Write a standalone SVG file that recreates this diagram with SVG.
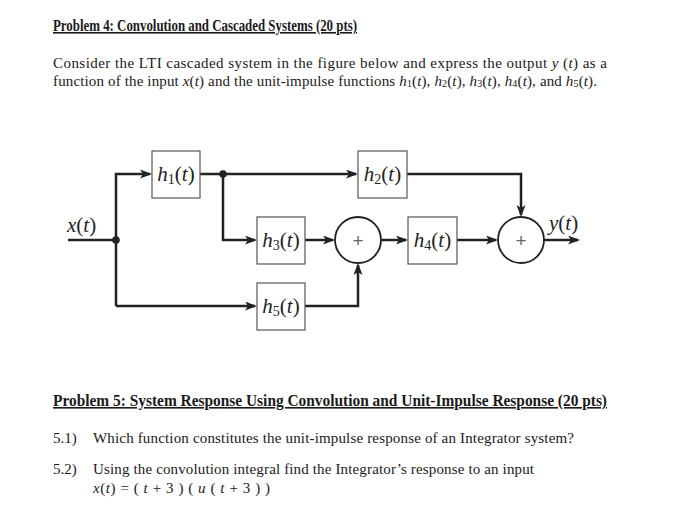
<svg xmlns="http://www.w3.org/2000/svg" width="700" height="521" viewBox="0 0 700 521">
<style>
.txt{font-family:"Liberation Serif","Times New Roman",serif;font-size:15px;fill:#1a1a1a}
.ttl{font-family:"Liberation Serif","Times New Roman",serif;font-size:16px;font-weight:bold;fill:#1a1a1a;text-decoration:underline}
.lbl{font-family:"Liberation Serif","Times New Roman",serif;font-size:21px;fill:#222}
.i{font-style:italic}
.box{fill:#fff;stroke:#555;stroke-width:1.2}
.sum{fill:#fff;stroke:#222;stroke-width:1.8}
.plus{font-family:"Liberation Sans",Arial,sans-serif;font-size:19px;fill:#666}
.wire{fill:none;stroke:#222;stroke-width:2.5;stroke-linejoin:miter}
.arr{marker-end:url(#ah)}
</style>
<defs>
<marker id="ah" markerUnits="userSpaceOnUse" markerWidth="13" markerHeight="10" refX="10" refY="4.5" orient="auto">
<path d="M0,0 L12,4.5 L0,9 L3,4.5 z" fill="#222"/>
</marker>
</defs>
<rect width="700" height="521" fill="#fff"/>

<g id="text-top">
<text class="ttl" x="53" y="31" textLength="304" lengthAdjust="spacingAndGlyphs">Problem 4: Convolution and Cascaded Systems (20 pts)</text>
<text class="txt" x="53" y="68" textLength="554" lengthAdjust="spacing">Consider the LTI cascaded system in the figure below and express the output <tspan class="i">y</tspan> (<tspan class="i">t</tspan>) as a</text>
<text class="txt" x="53" y="86" textLength="544" lengthAdjust="spacing">function of the input <tspan class="i">x</tspan>(<tspan class="i">t</tspan>) and the unit-impulse functions <tspan class="i">h</tspan><tspan font-size="10" dy="1">1</tspan><tspan dy="-1">(</tspan><tspan class="i">t</tspan>), <tspan class="i">h</tspan><tspan font-size="10" dy="1">2</tspan><tspan dy="-1">(</tspan><tspan class="i">t</tspan>), <tspan class="i">h</tspan><tspan font-size="10" dy="1">3</tspan><tspan dy="-1">(</tspan><tspan class="i">t</tspan>), <tspan class="i">h</tspan><tspan font-size="10" dy="1">4</tspan><tspan dy="-1">(</tspan><tspan class="i">t</tspan>), and <tspan class="i">h</tspan><tspan font-size="10" dy="1">5</tspan><tspan dy="-1">(</tspan><tspan class="i">t</tspan>).</text>
</g>

<g id="connectors">
<path class="wire" d="M68,240 H116"/>
<path class="wire arr" d="M116,306 V174 H150"/>
<path class="wire arr" d="M200,174 H356"/>
<path class="wire arr" d="M407,174 H521 V215"/>
<path class="wire arr" d="M223,174 V240 H255"/>
<path class="wire arr" d="M305,240 H333"/>
<path class="wire arr" d="M381,240 H406"/>
<path class="wire arr" d="M457,240 H496"/>
<path class="wire arr" d="M544,240 H578"/>
<path class="wire arr" d="M116,306 H255"/>
<path class="wire arr" d="M305,306 H358 V265"/>
<circle cx="116" cy="240" r="3.8" fill="#222"/>
<circle cx="223" cy="174" r="3.8" fill="#222"/>
</g>

<g id="label-x">
<text class="lbl" x="67" y="232"><tspan class="i">x</tspan>(<tspan class="i">t</tspan>)</text>
</g>
<g id="label-y">
<text class="lbl" x="549" y="230"><tspan class="i">y</tspan>(<tspan class="i">t</tspan>)</text>
</g>

<g id="h1">
<rect class="box" x="152" y="151" width="48" height="47"/>
<text class="lbl" x="176" y="181" text-anchor="middle"><tspan class="i">h</tspan><tspan font-size="14" dy="3">1</tspan><tspan dy="-3">(</tspan><tspan class="i">t</tspan>)</text>
</g>
<g id="h2">
<rect class="box" x="358" y="151" width="49" height="47"/>
<text class="lbl" x="382.5" y="181" text-anchor="middle"><tspan class="i">h</tspan><tspan font-size="14" dy="3">2</tspan><tspan dy="-3">(</tspan><tspan class="i">t</tspan>)</text>
</g>
<g id="h3">
<rect class="box" x="257" y="217" width="48" height="47"/>
<text class="lbl" x="281" y="247" text-anchor="middle"><tspan class="i">h</tspan><tspan font-size="14" dy="3">3</tspan><tspan dy="-3">(</tspan><tspan class="i">t</tspan>)</text>
</g>
<g id="h4">
<rect class="box" x="408" y="217" width="49" height="47"/>
<text class="lbl" x="432.5" y="247" text-anchor="middle"><tspan class="i">h</tspan><tspan font-size="14" dy="3">4</tspan><tspan dy="-3">(</tspan><tspan class="i">t</tspan>)</text>
</g>
<g id="h5">
<rect class="box" x="257" y="283" width="48" height="47"/>
<text class="lbl" x="281" y="313" text-anchor="middle"><tspan class="i">h</tspan><tspan font-size="14" dy="3">5</tspan><tspan dy="-3">(</tspan><tspan class="i">t</tspan>)</text>
</g>
<g id="sum1">
<circle class="sum" cx="358" cy="240" r="23"/>
<text class="plus" x="358" y="247" text-anchor="middle">+</text>
</g>
<g id="sum2">
<circle class="sum" cx="521" cy="240" r="23"/>
<text class="plus" x="521" y="247" text-anchor="middle">+</text>
</g>

<g id="text-bottom">
<text class="ttl" x="53" y="406" textLength="554" lengthAdjust="spacingAndGlyphs">Problem 5: System Response Using Convolution and Unit-Impulse Response (20 pts)</text>
<text class="txt" x="53" y="443">5.1)</text>
<text class="txt" x="93" y="443" textLength="481" lengthAdjust="spacing">Which function constitutes the unit-impulse response of an Integrator system?</text>
<text class="txt" x="53" y="474">5.2)</text>
<text class="txt" x="93" y="474" textLength="441" lengthAdjust="spacing">Using the convolution integral find the Integrator’s response to an input</text>
<text class="txt" x="93" y="493" textLength="177" lengthAdjust="spacing"><tspan class="i">x</tspan>(<tspan class="i">t</tspan>) = ( <tspan class="i">t</tspan> + 3 ) ( <tspan class="i">u</tspan> ( <tspan class="i">t</tspan> + 3 ) )</text>
</g>
</svg>
